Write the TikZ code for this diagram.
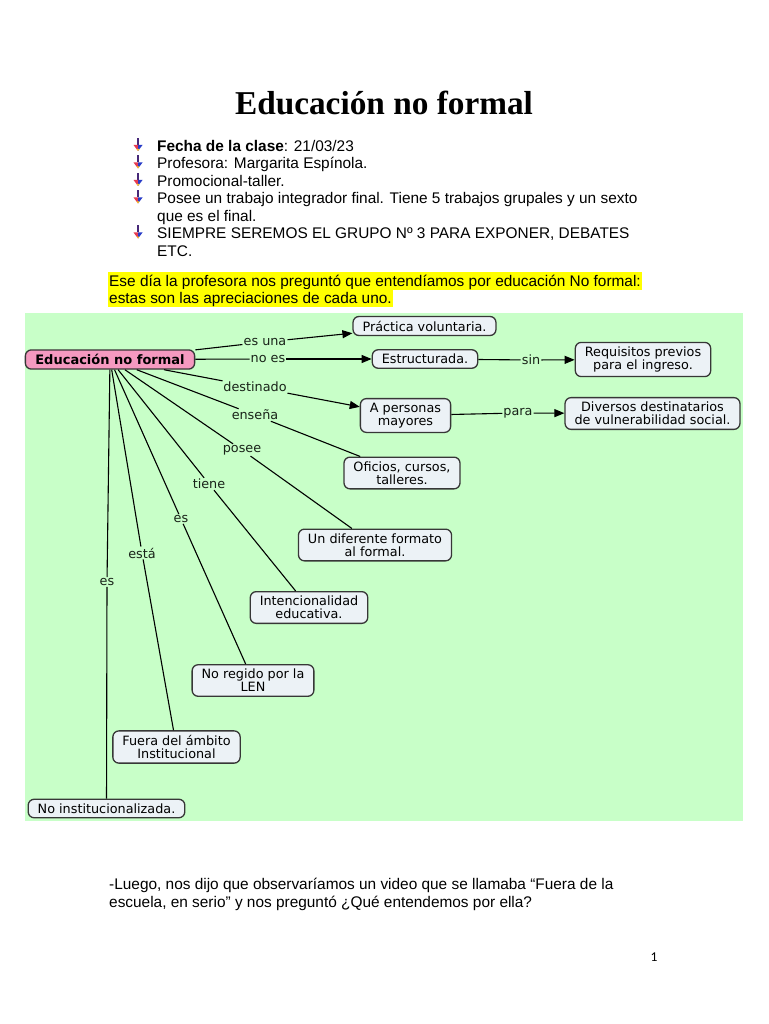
\documentclass[tikz,border=0pt]{standalone}
\usepackage{fontspec}
\setmainfont{Liberation Sans}
\newfontfamily\mapfont{DejaVu Sans}
\newfontfamily\titlefont{Liberation Serif}
\newfontfamily\numfont{Carlito}
\usepackage{xcolor}
\usepackage{tikz}
\usetikzlibrary{arrows.meta,positioning}

\definecolor{mapgreen}{RGB}{200,255,200}
\definecolor{mainpink}{RGB}{245,153,192}
\definecolor{boxfill}{RGB}{236,242,246}
\definecolor{boxline}{RGB}{55,55,55}
\definecolor{linktext}{RGB}{25,35,25}
\definecolor{hlyellow}{RGB}{255,255,0}
\definecolor{bulred}{RGB}{230,60,80}
\definecolor{bulblue}{RGB}{40,60,200}
\definecolor{bulstem}{RGB}{70,40,120}
\definecolor{bulyellow}{RGB}{250,200,40}

\begin{document}
\begin{tikzpicture}[x=1pt, y=-1pt,
  concept/.style={draw=boxline, fill=boxfill, rounded corners=6pt, line width=1.3pt,
    font=\mapfont\fontsize{12.8}{13.2}\selectfont, align=center,
    inner xsep=9.5pt, inner ysep=4.3pt},
  mainc/.style={concept, fill=mainpink, inner xsep=10pt,
    font=\mapfont\bfseries\fontsize{13}{13.2}\selectfont},
  link/.style={font=\mapfont\fontsize{12.8}{13.2}\selectfont, inner sep=1pt, text=linktext},
  arr/.style={-{Triangle[length=10pt,width=8pt]}, line width=1.1pt},
  ln/.style={line width=1.1pt},
  body/.style={font=\fontsize{15.4}{17.5}\selectfont, anchor=base west, inner sep=0pt},
  hl/.style={body, fill=hlyellow, text height=14pt, text depth=4pt, inner xsep=1pt},
  bul/.pic={
    \fill[bulstem] (-1.2,-7) rectangle (1.2,0);
    \fill[bulred] (-4.5,0) -- (0,0) -- (0,6) -- cycle;
    \fill[bulblue] (0,0) -- (4.5,0) -- (0,6) -- cycle;
    \fill[bulyellow] (-1.5,4) -- (1.5,4) -- (0,6) -- cycle;
  },
]
  \fill[white] (0,0) rectangle (768,1024);
  \useasboundingbox (0,0) rectangle (768,1024);

  \node[anchor=base, inner sep=0pt, font=\titlefont\bfseries\fontsize{33.3}{38}\selectfont]
    (title) at (384,115) {Educación no formal};

  \foreach \yb in {151.5,169,186.5,204,239}
    \pic at (138,\yb-6.5) {bul};
  \node[body] (it1)  at (157,151.5) {\textbf{Fecha de la clase}: 21/03/23};
  \node[body] (it2)  at (157,169)   {Profesora: Margarita Espínola.};
  \node[body] (it3)  at (157,186.5) {Promocional-taller.};
  \node[body] (it4a) at (157,204)   {Posee un trabajo integrador final. Tiene 5 trabajos grupales y un sexto};
  \node[body] (it4b) at (157,221.5) {que es el final.};
  \node[body] (it5a) at (157,239)   {SIEMPRE SEREMOS EL GRUPO Nº 3 PARA EXPONER, DEBATES};
  \node[body] (it5b) at (157,256.5) {ETC.};

  \node[hl] (hl1) at (108,286) {Ese día la profesora nos preguntó que entendíamos por educación No formal:};
  \node[hl] (hl2) at (108,303) {estas son las apreciaciones de cada uno.};

  \fill[mapgreen] (25,313) rectangle (743,821);

  \node[mainc] (edu) at (110,359.5) {Educación no formal};
  \node[concept] (prac)   at (424.5,326)  {Práctica voluntaria.};
  \node[concept] (estr)   at (425,359)    {Estructurada.};
  \node[concept] (req)    at (643,359.5)  {Requisitos previos\\para el ingreso.};
  \node[concept] (pers)   at (405.5,415.5){A personas\\mayores};
  \node[concept] (div)    at (652.5,413.5){Diversos destinatarios\\de vulnerabilidad social.};
  \node[concept] (ofi)    at (402,473)    {Oficios, cursos,\\talleres.};
  \node[concept] (dif)    at (375,545)    {Un diferente formato\\al formal.};
  \node[concept] (inten)  at (309,607.5)  {Intencionalidad\\educativa.};
  \node[concept] (len)    at (253,680.5)  {No regido por la\\LEN};
  \node[concept] (fuera)  at (176.5,747)  {Fuera del ámbito\\Institucional};
  \node[concept] (noinst) at (106.5,808.5){No institucionalizada.};

  \node[link] (lesuna) at (265,342)   {es una};
  \node[link] (lnoes)  at (268,359)   {no es};
  \node[link] (lsin)   at (531,360)   {sin};
  \node[link] (ldest)  at (255,387)   {destinado};
  \node[link] (lpara)  at (518,413)   {para};
  \node[link] (lens)   at (255,415)   {enseña};
  \node[link] (lposee) at (242,450)   {posee};
  \node[link] (ltiene) at (209,484)   {tiene};
  \node[link] (les1)   at (181,519)   {es};
  \node[link] (lesta)  at (142,553)   {está};
  \node[link] (les2)   at (107,582)   {es};

  \draw[ln] (edu) -- (lesuna);
  \draw[arr] (lesuna) -- (prac);
  \draw[ln] (edu) -- (lnoes);
  \draw[arr] (lnoes) -- (estr);
  \draw[ln] (estr) -- (lsin);
  \draw[arr] (lsin) -- (req);
  \draw[ln] (edu) -- (ldest);
  \draw[arr] (ldest) -- (pers);
  \draw[ln] (pers) -- (lpara);
  \draw[arr] (lpara) -- (div);
  \draw[ln] (edu) -- (lens) -- (ofi);
  \draw[ln] (edu) -- (lposee) -- (dif);
  \draw[ln] (edu) -- (ltiene) -- (inten);
  \draw[ln] (edu) -- (les1) -- (len);
  \draw[ln] (edu) -- (lesta) -- (fuera);
  \draw[ln] (edu) -- (les2) -- (noinst);

  \node[body] (fin1) at (109,889) {-Luego, nos dijo que observaríamos un video que se llamaba “Fuera de la};
  \node[body] (fin2) at (109,907) {escuela, en serio” y nos preguntó ¿Qué entendemos por ella?};

  \node[anchor=base, inner sep=0pt, font=\numfont\fontsize{13.5}{15}\selectfont]
    (pagenum) at (654,961) {1};
\end{tikzpicture}
\end{document}
